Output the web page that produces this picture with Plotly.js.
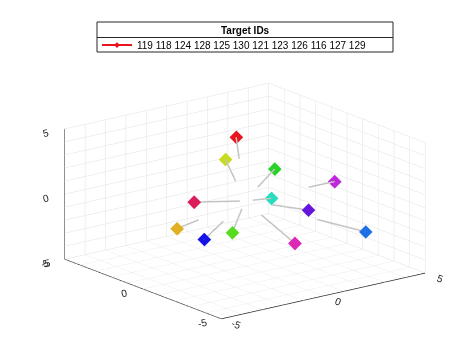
<!DOCTYPE html>
<html>
<head>
<meta charset="utf-8">
<script src="https://cdn.plot.ly/plotly-3.0.1.min.js"></script>
<style>html,body{margin:0;padding:0;background:#fff;}#chart{width:474px;height:355px;}</style>
</head>
<body>
<div id="chart"></div>
<script>
// Target IDs shown in the legend
const targetIds = [119, 118, 124, 128, 125, 130, 121, 123, 126, 116, 127, 129];
const legendTitle = 'Target IDs';
// Target positions (x, y, z)
const targetX = [1.01, -2.66, 0.23, -1.03, 1.56, 0.87, 3.11, -2.04, 1.78, 3.16, 0.69, -1.60];
const targetY = [1.88, 0.88, 1.55, -0.53, 0.14, -0.55, -3.65, -0.05, -1.73, -1.60, -2.28, 1.17];
const targetZ = [3.68, -1.59, 2.40, -1.83, 1.84, 0.15, -1.79, -2.21, -0.53, 1.11, -2.45, -0.06];
// Where each grey direction line starts, as a fraction of the way from the origin to the target
const lineStart = [0.66, 0.68, 0.48, 0.25, 0.43, 0.30, 0.60, 0.53, 0.42, 0.71, 0.33, 0.10];
const targetColors = ['#e8141e', '#e0b020', '#c8dc1e', '#5adc1e', '#28d228', '#28dcbe',
                      '#1e6ee6', '#1414e6', '#6414dc', '#be28dc', '#dc28b4', '#dc1e5a'];
const axisTicks = [-5, -4, -3, -2, -1, 0, 1, 2, 3, 4, 5];
const axisTickText = ['-5', '', '', '', '', '0', '', '', '', '', '5'];

const traces = [];
for (let i = 0; i < targetX.length; i++) {
  const f = lineStart[i];
  traces.push({
    type: 'scatter3d', mode: 'lines',
    x: [targetX[i] * f, targetX[i]], y: [targetY[i] * f, targetY[i]], z: [targetZ[i] * f, targetZ[i]],
    line: {color: '#c4c4c4', width: 3},
    showlegend: false, hoverinfo: 'skip'
  });
}
for (let i = 0; i < targetX.length; i++) {
  traces.push({
    type: 'scatter3d', mode: i === 0 ? 'lines+markers' : 'markers',
    x: [targetX[i]], y: [targetY[i]], z: [targetZ[i]],
    marker: {symbol: 'diamond', size: 4.5, color: targetColors[i]},
    line: {color: targetColors[i], width: 2},
    name: targetIds.join(' '),
    text: ['ID ' + targetIds[i]],
    showlegend: i === 0
  });
}

function axisStyle(tlen) {
  return {
    range: [-5, 5], autorange: false,
    tickvals: axisTicks, ticktext: axisTickText,
    showgrid: true, gridcolor: '#e2e2e2', gridwidth: 1,
    zeroline: false, showbackground: false,
    showline: true, linecolor: '#262626', linewidth: 1.5,
    ticks: 'outside', ticklen: tlen, tickcolor: '#ffffff',
    tickfont: {family: 'Liberation Sans, Arial, sans-serif', size: 11, color: '#262626'},
    title: {text: ''}, showspikes: false
  };
}

const S = 1.67;
const layout = {
  width: 474, height: 355,
  margin: {l: 0, r: 0, t: 0, b: 0},
  paper_bgcolor: '#ffffff',
  font: {family: 'Liberation Sans, Arial, sans-serif', color: '#262626'},
  showlegend: true,
  legend: {
    x: 0.2046, xanchor: 'left', y: 0.873, yanchor: 'middle',
    orientation: 'h', itemsizing: 'trace',
    bgcolor: 'rgba(0,0,0,0)', borderwidth: 0,
    font: {size: 10, color: '#000000'}
  },
  shapes: [
    {type: 'rect', xref: 'paper', yref: 'paper', x0: 97 / 474, x1: 393 / 474, y0: 1 - 52 / 355, y1: 1 - 22 / 355,
     line: {color: '#262626', width: 1}, fillcolor: 'rgba(0,0,0,0)', layer: 'below'},
    {type: 'line', xref: 'paper', yref: 'paper', x0: 97 / 474, x1: 393 / 474, y0: 1 - 37.5 / 355, y1: 1 - 37.5 / 355,
     line: {color: '#262626', width: 1}}
  ],
  annotations: [
    {text: '<b>' + legendTitle + '</b>', xref: 'paper', yref: 'paper', x: 245 / 474, y: 1 - 30 / 355,
     xanchor: 'center', yanchor: 'middle', showarrow: false, font: {size: 10, color: '#000000'}}
  ],
  scene: {
    domain: {x: [0.034, 1], y: [0, 0.868]},
    aspectmode: 'manual', aspectratio: {x: S, y: S, z: 0.53 * S},
    camera: {
      eye: {x: -0.582 * 2, y: -0.758 * 2, z: 0.292 * 2},
      up: {x: 0, y: 0, z: 1}, center: {x: 0, y: 0, z: 0},
      projection: {type: 'orthographic'}
    },
    xaxis: axisStyle(6), yaxis: axisStyle(6), zaxis: axisStyle(4)
  }
};

Plotly.newPlot('chart', traces, layout, {displayModeBar: false});
</script>
</body>
</html>
